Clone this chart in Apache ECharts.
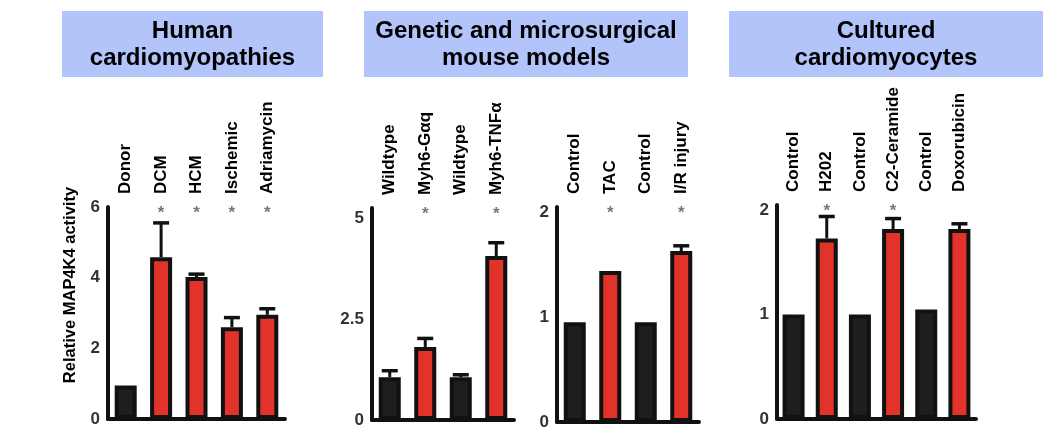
<!DOCTYPE html>
<html>
<head>
<meta charset="utf-8">
<script src="https://cdn.jsdelivr.net/npm/echarts@6/dist/echarts.min.js"></script>
<style>
html,body{margin:0;padding:0;background:#fff;}
#c{width:1043px;height:445px;}
</style>
</head>
<body>
<div id="c"></div>
<script>
// ---- Data ----
const headers = ['Human\ncardiomyopathies', 'Genetic and microsurgical\nmouse models', 'Cultured\ncardiomyocytes'];
const yAxisName = 'Relative MAP4K4 activity';

const cats1 = ['Donor', 'DCM', 'HCM', 'Ischemic', 'Adriamycin'];
const vals1 = [0.95, 4.58, 4.02, 2.6, 2.95];
const errs1 = [0, 0.97, 0.08, 0.27, 0.17];
const stars1 = [0, 1, 1, 1, 1];
const ctrl1 = [1, 0, 0, 0, 0];
const ticks1 = [0, 2, 4, 6];

const cats2 = ['Wildtype', 'Myh6-Gαq', 'Wildtype', 'Myh6-TNFα'];
const vals2 = [1.06, 1.81, 1.06, 4.06];
const errs2 = [0.16, 0.21, 0.06, 0.33];
const stars2 = [0, 1, 0, 1];
const ctrl2 = [1, 0, 1, 0];
const ticks2 = [0, 2.5, 5];

const cats3 = ['Control', 'TAC', 'Control', 'I/R injury'];
const vals3 = [0.95, 1.44, 0.95, 1.63];
const errs3 = [0, 0, 0, 0.05];
const stars3 = [0, 1, 0, 1];
const ctrl3 = [1, 0, 1, 0];
const ticks3 = [0, 1, 2];

const cats4 = ['Control', 'H202', 'Control', 'C2-Ceramide', 'Control', 'Doxorubicin'];
const vals4 = [1.0, 1.73, 1.0, 1.82, 1.05, 1.82];
const errs4 = [0, 0.21, 0, 0.1, 0, 0.05];
const stars4 = [0, 1, 0, 1, 0, 0];
const ctrl4 = [1, 0, 1, 0, 1, 0];
const ticks4 = [0, 1, 2];

// ---- Layout / style ----
const FONT = '"Liberation Sans", Arial, Helvetica, sans-serif';
const RED = '#e2332a', BLK = '#1e1e1e', EDGE = '#111';
const panels = [
  {cats: cats1, vals: vals1, errs: errs1, stars: stars1, ctrl: ctrl1, ticks: ticks1, max: 6,
   grid: {left: 108, top: 207, width: 177, height: 212}},
  {cats: cats2, vals: vals2, errs: errs2, stars: stars2, ctrl: ctrl2, ticks: ticks2, max: 5.25,
   grid: {left: 372, top: 208, width: 142, height: 212}},
  {cats: cats3, vals: vals3, errs: errs3, stars: stars3, ctrl: ctrl3, ticks: ticks3, max: 2.05,
   grid: {left: 557, top: 207, width: 142, height: 215}},
  {cats: cats4, vals: vals4, errs: errs4, stars: stars4, ctrl: ctrl4, ticks: ticks4, max: 2.05,
   grid: {left: 777, top: 205, width: 199, height: 214}}
];

const grids = [], xAxes = [], yAxes = [], series = [];
panels.forEach((p, k) => {
  grids.push(Object.assign({containLabel: false}, p.grid));
  // bottom axis: line only
  xAxes.push({type: 'category', gridIndex: k, data: p.cats, position: 'bottom',
    axisLine: {show: true, lineStyle: {color: EDGE, width: 4}},
    axisTick: {show: false}, axisLabel: {show: false}, splitLine: {show: false}});
  // top axis: labels only
  xAxes.push({type: 'category', gridIndex: k, data: p.cats, position: 'top',
    axisLine: {show: false}, axisTick: {show: false}, splitLine: {show: false},
    axisLabel: {show: true, interval: 0, rotate: -90, margin: 13,
      color: '#000', fontFamily: FONT, fontWeight: 'bold', fontSize: 17}});
  const step = p.ticks[1] - p.ticks[0];
  yAxes.push({type: 'value', gridIndex: k, min: 0, max: p.max, interval: step,
    axisLine: {show: true, lineStyle: {color: EDGE, width: 4}},
    axisTick: {show: false}, splitLine: {show: false},
    axisLabel: {margin: 8, color: '#333', fontFamily: FONT, fontWeight: 'bold', fontSize: 17,
      formatter: v => (p.ticks.some(t => Math.abs(t - v) < 1e-9) ? String(v) : '')}});
  series.push({type: 'bar', xAxisIndex: 2 * k, yAxisIndex: k, barWidth: 22, z: 2,
    data: p.vals.map((v, i) => ({value: v, itemStyle: {color: p.ctrl[i] ? BLK : RED}})),
    itemStyle: {borderColor: EDGE, borderWidth: 4}});
  series.push({type: 'custom', xAxisIndex: 2 * k, yAxisIndex: k, z: 3,
    data: p.vals.map((v, i) => [i, v, p.errs[i]]).filter(d => d[2] > 0),
    encode: {x: 0, y: 1},
    renderItem: (params, api) => {
      const i = api.value(0), v = api.value(1), e = api.value(2);
      const b = api.coord([i, v]), t = api.coord([i, v + e]);
      return {type: 'group', children: [
        {type: 'line', shape: {x1: b[0], y1: b[1], x2: t[0], y2: t[1]}, style: {stroke: EDGE, lineWidth: 3}},
        {type: 'line', shape: {x1: t[0] - 8, y1: t[1], x2: t[0] + 8, y2: t[1]}, style: {stroke: EDGE, lineWidth: 3.5}}
      ]};
    }});
  series.push({type: 'scatter', xAxisIndex: 2 * k, yAxisIndex: k, symbolSize: 1, z: 4,
    itemStyle: {color: 'rgba(0,0,0,0)'},
    data: p.stars.map((s, i) => [i, p.max, s]).filter(d => d[2]),
    label: {show: true, formatter: '*', position: 'inside', offset: [0, 6],
      color: '#555', fontFamily: FONT, fontWeight: 'bold', fontSize: 17}});
});

const boxes = [{x: 62, w: 261}, {x: 364, w: 324}, {x: 729, w: 314}];
const graphic = [];
boxes.forEach((b, i) => {
  graphic.push({type: 'rect', shape: {x: b.x, y: 11, width: b.w, height: 66}, style: {fill: '#b3c4fb'}, z: 0});
  graphic.push({type: 'text', x: b.x + b.w / 2, y: 45, z: 1,
    style: {text: headers[i], textAlign: 'center', textVerticalAlign: 'middle',
      font: 'bold 24px ' + FONT, lineHeight: 27, fill: '#000'}});
});
graphic.push({type: 'text', x: 70, y: 285, rotation: Math.PI / 2, z: 1,
  style: {text: yAxisName, textAlign: 'center', textVerticalAlign: 'middle',
    font: 'bold 16.5px ' + FONT, fill: '#000'}});

const chart = echarts.init(document.getElementById('c'), null, {renderer: 'canvas'});
chart.setOption({
  animation: false,
  backgroundColor: '#fff',
  grid: grids, xAxis: xAxes, yAxis: yAxes, series: series, graphic: graphic
});
</script>
</body>
</html>
